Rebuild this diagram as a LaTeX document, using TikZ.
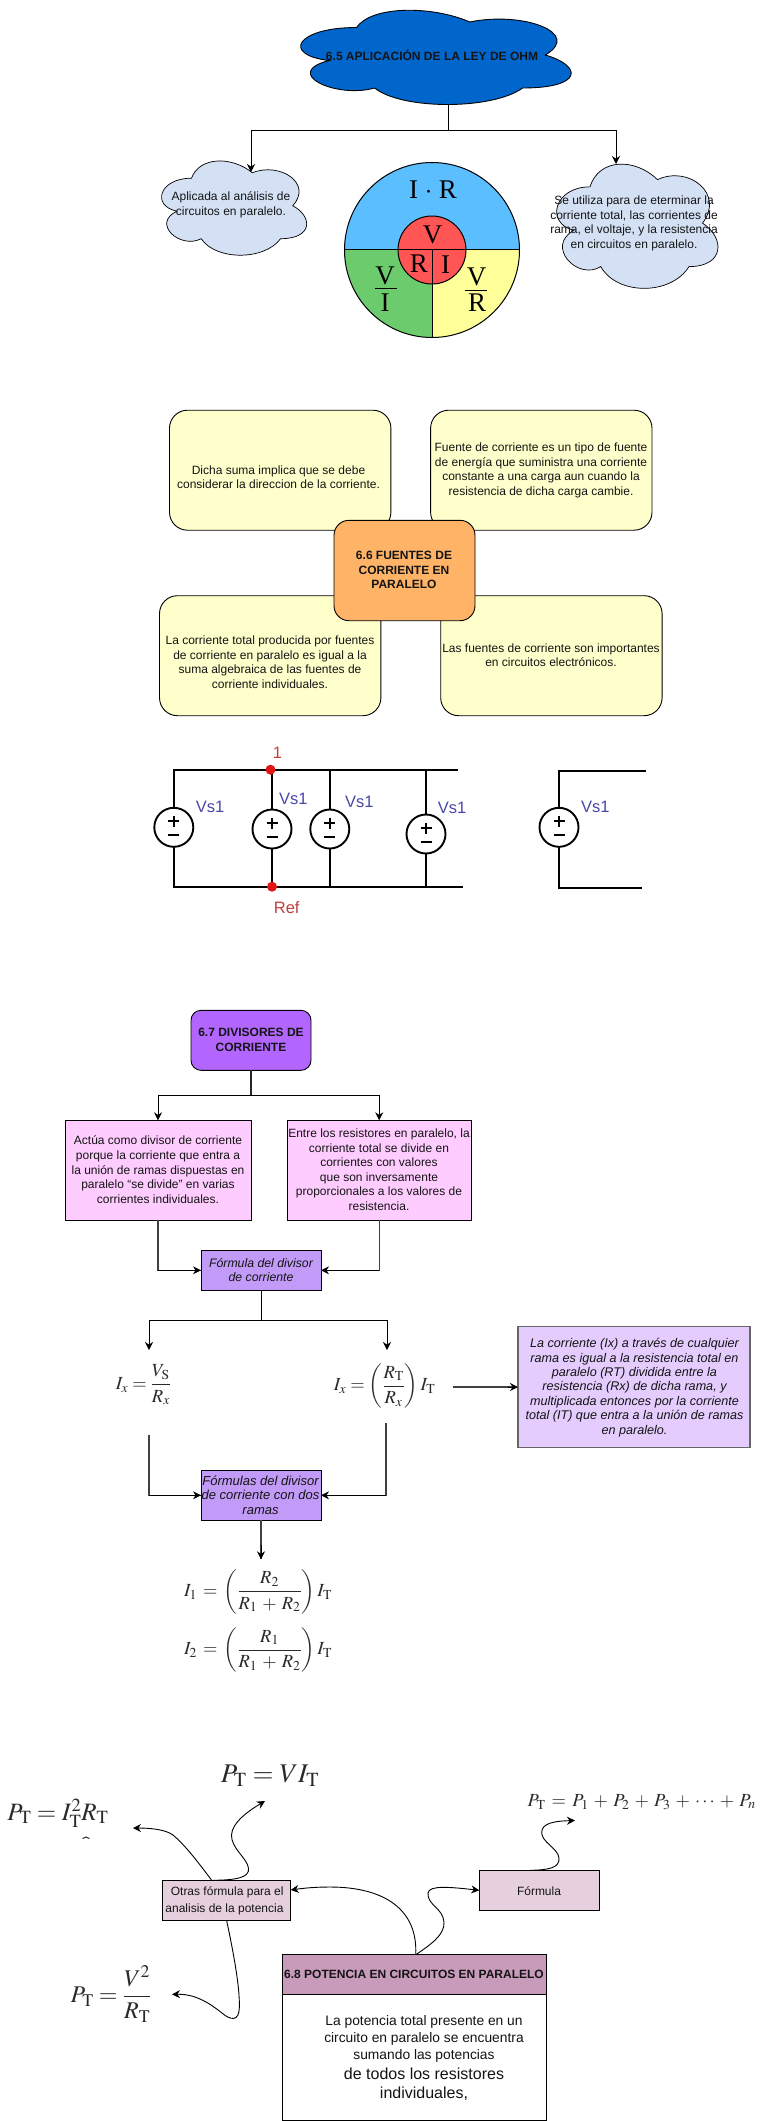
\documentclass[tikz,border=0pt]{standalone}
\usepackage{mathptmx}
\usepackage[no-math]{fontspec}
\setmainfont{Liberation Sans}
\newfontfamily\serifcirc{Liberation Serif}
\usetikzlibrary{arrows.meta,calc}
\definecolor{cloudblue}{HTML}{0066CC}
\definecolor{cloudlight}{HTML}{D4E1F5}
\definecolor{secblue}{HTML}{5ABEFF}
\definecolor{secgreen}{HTML}{6CCB6C}
\definecolor{secyellow}{HTML}{FFFF99}
\definecolor{secred}{HTML}{FF5555}
\definecolor{paleyellow}{HTML}{FFFFCC}
\definecolor{orangebox}{HTML}{FFB366}
\definecolor{purplehead}{HTML}{B266FF}
\definecolor{pinkbox}{HTML}{FFCCFF}
\definecolor{violetbox}{HTML}{C29AF7}
\definecolor{lilacbox}{HTML}{E5CCFF}
\definecolor{mauvepale}{HTML}{E6D0DE}
\definecolor{mauvehead}{HTML}{C99BBB}
\definecolor{nodered}{HTML}{E01515}
\definecolor{labred}{HTML}{C04040}
\definecolor{labblue}{HTML}{4848A8}
\definecolor{eqgray}{HTML}{2A2A2A}
\newcommand\cloudshape[5]{\begin{scope}[shift={(#2,#3)},x=#4pt,y=-#5pt]
\draw[#1] (.25,.25) .. controls (.05,.25) and (0,.5) .. (.16,.55)
 .. controls (0,.66) and (.18,.9) .. (.31,.8)
 .. controls (.4,1) and (.7,1) .. (.8,.8)
 .. controls (1,.8) and (1,.6) .. (.875,.5)
 .. controls (1,.3) and (.8,.1) .. (.625,.2)
 .. controls (.5,.05) and (.3,.05) .. (.25,.25) -- cycle;
\end{scope}}
\newcommand\vsrc[3]{\node[srcnode] (#1) at (#2,#3) {};
\draw[signline] ($(#1.center)+(-5.5,-6)$) -- ($(#1.center)+(5.5,-6)$);
\draw[signline] ($(#1.center)+(0,-11.5)$) -- ($(#1.center)+(0,-.5)$);
\draw[signline] ($(#1.center)+(-5.5,8)$) -- ($(#1.center)+(5.5,8)$);}
\newcommand\wideeq{\medmuskip=5mu plus 1mu\thickmuskip=6mu plus 1mu\relax}
\tikzset{
 tip/.style={-{Stealth[length=8pt,width=8pt]}},
 conn/.style={black,line width=.9pt},
 gconn/.style={draw=black!75,line width=1.3pt},
 txt/.style={inner sep=0,align=center,text=black!92,font=\fontsize{12}{14.6}\selectfont},
 btxt/.style={txt,font=\fontsize{12}{14.6}\selectfont\bfseries},
 itxt/.style={txt,font=\fontsize{12.3}{14.6}\selectfont\itshape},
 box/.style={draw=black,line width=.9pt,inner sep=0,outer sep=0},
 ybox/.style={box,fill=paleyellow,rounded corners=18pt,minimum width=221.4pt,minimum height=120pt},
 pinkb/.style={box,fill=pinkbox,minimum height=100pt},
 violetb/.style={box,fill=violetbox,minimum width=120pt},
 wire/.style={black,line width=1.9pt},
 srcnode/.style={circle,draw=black,fill=white,line width=1.9pt,minimum size=39pt,inner sep=0,outer sep=0},
 signline/.style={black,line width=1.7pt},
 dotnode/.style={circle,fill=nodered,minimum size=10pt,inner sep=0},
 vslab/.style={inner sep=0,text=labblue,font=\fontsize{16.5}{18}\selectfont},
 redlab/.style={inner sep=0,text=labred,font=\fontsize{16.5}{18}\selectfont},
 circlab/.style={inner sep=0,text=black,font=\fontsize{27}{28}\serifcirc},
 eqn/.style={inner sep=0,text=eqgray},
 eqm/.style={eqn,font=\fontsize{18.5}{22}\selectfont},
}
\begin{document}
\begin{tikzpicture}[x=1pt,y=-1pt]
\useasboundingbox (0,0) rectangle (773,2121);
\fill[white] (0,0) rectangle (773,2121);

% ---------- 6.5 ----------
\cloudshape{draw=black,line width=.9pt,fill=cloudblue}{281}{0}{302}{110}
\cloudshape{draw=black,line width=.7pt,fill=cloudlight}{151}{150.7}{162}{110}
\cloudshape{draw=black,line width=.7pt,fill=cloudlight}{545}{150.6}{180}{145}
\node[btxt] (t65) at (432,55) {6.5 APLICACIÓN DE LA LEY DE OHM};
\node[txt] (cl) at (231,205) {Aplicada al análisis de\\circuitos en paralelo.};
\node[txt] (cr) at (634,223.5) {Se utiliza para de eterminar la\\corriente total, las corrientes de\\rama, el voltaje, y la resistencia\\en circuitos en paralelo.};
\coordinate (c65b) at (448,105);
\coordinate (c65j) at (448,130.3);
\coordinate (c65l) at (251,130.3);
\coordinate (c65r) at (616,130.3);
\coordinate (c65le) at (251,172);
\coordinate (c65re) at (616,164);
\draw[conn] (c65b) -- (c65j);
\draw[conn,tip] (c65j) -- (c65l) -- (c65le);
\draw[conn,tip] (c65j) -- (c65r) -- (c65re);

\begin{scope}
\clip (432,250) circle (87.5pt);
\fill[secblue] (340,160) rectangle (525,249.5);
\fill[secgreen] (340,249.5) rectangle (432,340);
\fill[secyellow] (432,249.5) rectangle (525,340);
\end{scope}
\draw[black,line width=1pt] (432,250) circle (87.5pt);
\draw[black,line width=1pt] (344.5,249.5) -- (519.5,249.5);
\draw[black,line width=1pt] (432,250) -- (432,337.5);
\fill[secred] (432,250) circle (34pt);
\draw[black,line width=1pt] (432,250) circle (34pt);
\draw[black,line width=1pt] (398,249.5) -- (466,249.5);
\draw[black,line width=1pt] (432,250) -- (432,284);
\node[circlab] (ir) at (433,189.5) {I $\cdot$ R};
\node[circlab] (iv) at (432.5,235) {V};
\node[circlab] (ird) at (419,263.5) {R};
\node[circlab] (iid) at (445.5,265) {I};
\node[circlab] (lv) at (385,276) {V};
\node[circlab] (li) at (385,303) {I};
\node[circlab] (rv) at (476.5,276.5) {V};
\node[circlab] (rr) at (477,303) {R};
\draw[black,line width=1pt] (375,288.5) -- (396.7,288.5);
\draw[black,line width=1pt] (465.4,290) -- (487,290);

% ---------- 6.6 ----------
\node[ybox] (y1) at (280.2,470.2) {};
\node[ybox] (y2) at (541.3,470.2) {};
\node[ybox] (y3) at (270.2,655.7) {};
\node[ybox] (y4) at (551.4,655.7) {};
\node[txt] (ty1) at (278.5,477.2) {Dicha suma implica que se debe\\considerar la direccion de la corriente.};
\node[txt] (ty2) at (541,470.3) {Fuente de corriente es un tipo de fuente\\de energía que suministra una corriente\\constante a una carga aun cuando la\\resistencia de dicha carga cambie.};
\node[txt] (ty3) at (270,662.3) {La corriente total producida por fuentes\\de corriente en paralelo es igual a la\\suma algebraica de las fuentes de\\corriente individuales.};
\node[txt] (ty4) at (551,655.2) {Las fuentes de corriente son importantes\\en circuitos electrónicos.};
\node[box,fill=orangebox,rounded corners=15pt,minimum width=141pt,minimum height=100.4pt] (o66) at (404.5,570.5) {};
\node[btxt] (to66) at (404,570) {6.6 FUENTES DE\\CORRIENTE EN\\PARALELO};

% ---------- circuit ----------
\coordinate (rtl) at (173.6,770);
\coordinate (rtr) at (457,770);
\coordinate (rbl) at (173.6,886.7);
\coordinate (rbr) at (462.5,886.7);
\draw[wire,line cap=rect] (rtr) -- (rtl);
\draw[wire,line cap=rect] (rbr) -- (rbl);
\vsrc{s1}{173.8}{827.3}
\vsrc{s2}{272}{829}
\vsrc{s3}{329.8}{829}
\vsrc{s4}{426}{834}
\draw[wire] (s1.north) -- (s1.north |- rtl);
\draw[wire] (s1.south) -- (s1.south |- rbl);
\draw[wire] (s2.north) -- (s2.north |- rtl);
\draw[wire] (s2.south) -- (s2.south |- rbl);
\draw[wire] (s3.north) -- (s3.north |- rtl);
\draw[wire] (s3.south) -- (s3.south |- rbl);
\draw[wire] (s4.north) -- (s4.north |- rtl);
\draw[wire] (s4.south) -- (s4.south |- rbl);
\node[dotnode] (n1) at (270.5,769.7) {};
\node[dotnode] (nr) at (272,886.7) {};
\node[redlab] (l1) at (277.4,752.7) {1};
\node[redlab] (lref) at (286.7,907.3) {Ref};
\node[vslab] (v1) at (210,806.7) {Vs1};
\node[vslab] (v2) at (293.3,798.7) {Vs1};
\node[vslab] (v3) at (359.4,802.3) {Vs1};
\node[vslab] (v4) at (452,807.7) {Vs1};
\vsrc{s5}{559}{827.3}
\coordinate (r2t) at (646,771);
\coordinate (r2b) at (641.7,887.7);
\draw[wire] (r2t) -- (s5.north |- r2t) -- (s5.north);
\draw[wire] (r2b) -- (s5.south |- r2b) -- (s5.south);
\node[vslab] (v5) at (595.4,806.7) {Vs1};

% ---------- 6.7 ----------
\node[box,fill=purplehead,rounded corners=10pt,minimum width=120pt,minimum height=60pt] (h67) at (251,1040.3) {};
\node[btxt] (th67) at (251,1040) {6.7 DIVISORES DE\\CORRIENTE};
\node[pinkb,minimum width=186pt] (pl) at (158,1170.3) {};
\node[pinkb,minimum width=184pt] (pr) at (379.2,1170.3) {};
\node[txt] (tpl) at (158,1169.7) {Actúa como divisor de corriente\\porque la corriente que entra a\\la unión de ramas dispuestas en\\paralelo “se divide” en varias\\corrientes individuales.};
\node[txt] (tpr) at (379,1169.7) {Entre los resistores en paralelo, la\\corriente total se divide en\\corrientes con valores\\que son inversamente\\proporcionales a los valores de\\resistencia.};
\coordinate (j67) at (251,1095.3);
\draw[gconn,draw=black!85] (h67.south) -- (j67);
\draw[conn,tip] (j67) -| (pl.north);
\draw[conn,tip] (j67) -| (pr.north);
\node[violetb,minimum height=40pt] (f1) at (261,1270.3) {};
\node[itxt] (tf1) at (261,1270) {Fórmula del divisor\\de corriente};
\draw[gconn] (pl.south) |- (f1.west);
\draw[gconn] (pr.south) |- (f1.east);
\draw[conn,tip] (157.7,1270.3) -- (f1.west);
\draw[conn,tip] (379.2,1270.3) -- (f1.east);

\node[eqm] (eq1) at (143.5,1385) {$\displaystyle I_x=\frac{V_{\mathrm S}}{R_x}$};
\node[eqm] (eq2) at (384.5,1386) {$\displaystyle I_x=\left(\frac{R_{\mathrm T}}{R_x}\right)I_{\mathrm T}$};
\coordinate (j68) at (261,1320.3);
\coordinate (eq1t) at (149,1350);
\coordinate (eq2t) at (387,1350);
\draw[conn] (f1.south) -- (j68);
\draw[conn,tip] (j68) -| (eq1t);
\draw[conn,tip] (j68) -| (eq2t);

\node[box,draw=black!60,line width=1.5pt,fill=lilacbox,minimum width=232pt,minimum height=120.6pt] (desc) at (634,1387) {};
\node[itxt,font=\fontsize{12.6}{14.4}\selectfont\itshape] (tdesc) at (634.5,1387.5) {La corriente (Ix) a través de cualquier\\rama es igual a la resistencia total en\\paralelo (RT) dividida entre la\\resistencia (Rx) de dicha rama, y\\multiplicada entonces por la corriente\\total (IT) que entra a la unión de ramas\\en paralelo.};
\coordinate (eq2r) at (452.6,1387);
\draw[gconn,line width=1.6pt] (eq2r) -- (512,1387);
\draw[conn,tip] (508,1387) -- (desc.west);

\node[violetb,minimum height=50pt] (f2) at (261,1495.3) {};
\node[itxt,font=\fontsize{13}{14.6}\selectfont\itshape] (tf2) at (260.5,1495) {Fórmulas del divisor\\de corriente con dos\\ramas};
\coordinate (eq1b) at (149,1435);
\coordinate (eq2b) at (386,1423.3);
\draw[gconn] (eq1b) |- (f2.west);
\draw[gconn] (eq2b) |- (f2.east);
\draw[conn,tip] (149,1495.3) -- (f2.west);
\draw[conn,tip] (386,1495.3) -- (f2.east);
\coordinate (f2e) at (261,1559.3);
\draw[gconn] (f2.south) -- (f2e);
\draw[conn,tip] (261,1545) -- (f2e);
\node[eqm] (eq3) at (258,1591.7) {\wideeq$\displaystyle I_1=\left(\frac{R_2}{R_1+R_2}\right)I_{\mathrm T}$};
\node[eqm] (eq4) at (258,1650) {\wideeq$\displaystyle I_2=\left(\frac{R_1}{R_1+R_2}\right)I_{\mathrm T}$};

% ---------- 6.8 ----------
\node[box,fill=mauvepale,minimum width=128.4pt,minimum height=40.4pt] (ot) at (226.5,1900.5) {};
\node[txt,align=right,font=\fontsize{12}{17}\selectfont] (tot) at (224.5,1901) {Otras fórmula para el\\analisis de la potencia};
\node[box,fill=mauvepale,minimum width=120.4pt,minimum height=40pt] (fo) at (539.5,1890.3) {};
\node[txt] (tfo) at (539,1890.7) {Fórmula};
\node[box,fill=white,minimum width=264.4pt,minimum height=126pt] (bd) at (414.5,2057.3) {};
\node[box,fill=mauvehead,minimum width=264.4pt,minimum height=39.6pt] (hd) at (414.5,1974.5) {};
\node[txt,font=\fontsize{12}{14}\selectfont\bfseries] (thd) at (414,1974.7) {6.8 POTENCIA EN CIRCUITOS EN PARALELO};
\node[txt,font=\fontsize{13.8}{17}\selectfont] (tbd1) at (424,2039.3) {La potencia total presente en un\\circuito en paralelo se encuentra\\sumando las potencias};
\node[txt,font=\fontsize{16}{19}\selectfont] (tbd2) at (424,2083.8) {de todos los resistores\\individuales,};

\node[eqn,font=\fontsize{27}{30}\selectfont] (pa) at (270,1776) {$P_{\mathrm T}=VI_{\mathrm T}$};
\node[eqn,font=\fontsize{25}{28}\selectfont] (pb) at (58,1813) {$P_{\mathrm T}=I_{\mathrm T}^{2}R_{\mathrm T}$};
\draw[eqgray,line width=1pt] (82.5,1838.5) .. controls (84.5,1836.5) and (87.5,1836.5) .. (89.5,1838.5);
\node[eqn,font=\fontsize{24}{27}\selectfont] (pc) at (111,1994) {$\displaystyle P_{\mathrm T}=\frac{V^{2}}{R_{\mathrm T}}$};
\node[eqm] (pd) at (641.7,1801.7) {\wideeq$P_{\mathrm T}=P_1+P_2+P_3+\cdots+P_n$};

\coordinate (otop) at (213,1880.3);
\coordinate (otop2) at (211.7,1880.3);
\coordinate (obot) at (226.7,1920.7);
\coordinate (ftop) at (530,1870.3);
\coordinate (htop) at (415.7,1954.7);
\coordinate (paend) at (265,1801);
\coordinate (pbend) at (133,1828);
\coordinate (pcend) at (172,1994.3);
\coordinate (pdend) at (575,1820.5);
\draw[conn,tip] (htop) .. controls (418,1910) and (385,1887) .. (330,1887) .. controls (315,1887) and (305,1888) .. (ot.east |- 0,1890);
\draw[conn,tip] (htop) .. controls (430,1945) and (445,1935) .. (444,1922) .. controls (443,1908) and (427,1905) .. (428,1893) .. controls (429,1885) and (450,1887) .. (fo.west);
\draw[conn,tip] (ftop) .. controls (548,1870) and (560,1868) .. (559,1858) .. controls (558,1848) and (541,1842) .. (541.7,1832) .. controls (542,1823) and (555,1821) .. (pdend);
\draw[conn,tip] (otop) .. controls (235,1880) and (250,1878) .. (248.5,1868) .. controls (247,1858) and (231,1848) .. (231.5,1835) .. controls (232,1822) and (250,1810) .. (paend);
\draw[conn,tip] (otop2) .. controls (198,1862) and (185,1845) .. (173,1835) .. controls (165,1829) and (148,1828) .. (pbend);
\draw[conn,tip] (obot) .. controls (235,1960) and (240,1990) .. (239.3,2008) .. controls (239,2022) and (230,2020) .. (222,2013) .. controls (208,2002) and (195,1994) .. (pcend);
\end{tikzpicture}
\end{document}
